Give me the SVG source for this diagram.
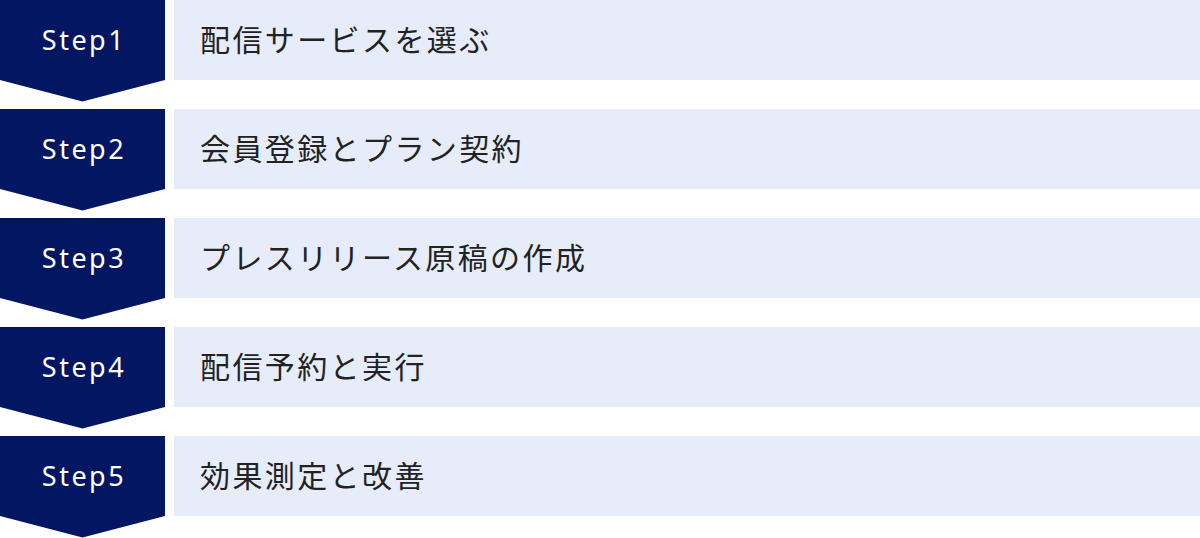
<svg xmlns="http://www.w3.org/2000/svg" width="1200" height="538" viewBox="0 0 1200 538">
<style>
.badge{fill:#021661}
.bar{fill:#e6ecf9}
.step{font-family:"Noto Sans","DejaVu Sans",sans-serif;font-size:27px;fill:#ffffff;letter-spacing:2.5px;text-anchor:middle}
.label{font-family:"Noto Sans CJK JP","Noto Sans",sans-serif;font-size:30px;fill:#222222;letter-spacing:2.4px}
</style>
<defs>
<path id="chev" d="M0 0 H165 V80 L82.5 101.5 L0 80 Z"/>
</defs>
<g id="connectors"></g>
<g id="step1" transform="translate(0,0)">
<use href="#chev" class="badge"/>
<rect class="bar" x="174" y="0" width="1026" height="80"/>
<text class="step" x="84" y="50">Step1</text>
<text class="label" x="200" y="51">配信サービスを選ぶ</text>
</g>
<g id="step2" transform="translate(0,109)">
<use href="#chev" class="badge"/>
<rect class="bar" x="174" y="0" width="1026" height="80"/>
<text class="step" x="84" y="50">Step2</text>
<text class="label" x="200" y="51">会員登録とプラン契約</text>
</g>
<g id="step3" transform="translate(0,218)">
<use href="#chev" class="badge"/>
<rect class="bar" x="174" y="0" width="1026" height="80"/>
<text class="step" x="84" y="50">Step3</text>
<text class="label" x="200" y="51">プレスリリース原稿の作成</text>
</g>
<g id="step4" transform="translate(0,327)">
<use href="#chev" class="badge"/>
<rect class="bar" x="174" y="0" width="1026" height="80"/>
<text class="step" x="84" y="50">Step4</text>
<text class="label" x="200" y="51">配信予約と実行</text>
</g>
<g id="step5" transform="translate(0,436)">
<use href="#chev" class="badge"/>
<rect class="bar" x="174" y="0" width="1026" height="80"/>
<text class="step" x="84" y="50">Step5</text>
<text class="label" x="200" y="51">効果測定と改善</text>
</g>
</svg>
